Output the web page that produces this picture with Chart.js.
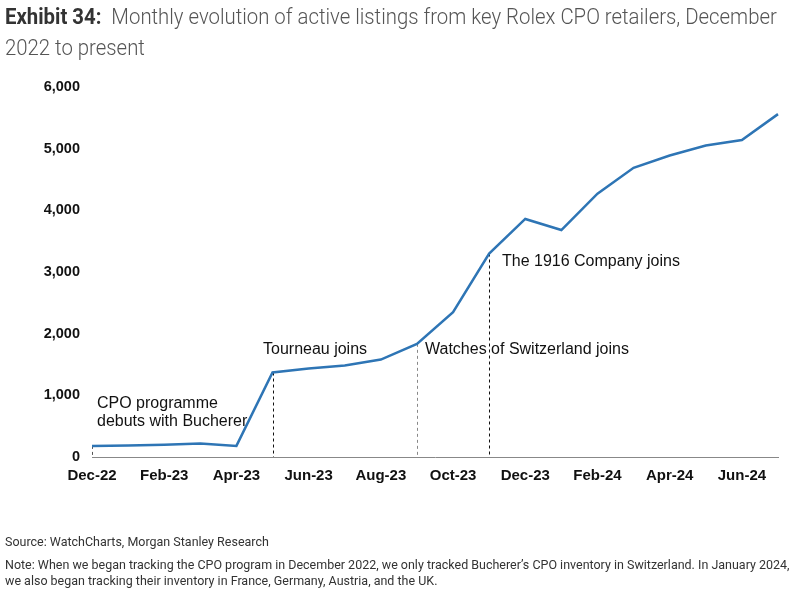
<!DOCTYPE html>
<html>
<head>
<meta charset="utf-8">
<script src="https://cdn.jsdelivr.net/npm/chart.js@4"></script>
<style>
  body { margin: 0; background: #fff; }
  #wrap { position: relative; width: 801px; height: 596px; overflow: hidden; }
  #chart { position: absolute; left: 0; top: 0; }
  .txt { position: absolute; white-space: nowrap; }
  .title { left: 5px; top: 1px; font-family: Roboto, sans-serif; font-size: 22px; line-height: 31px; color: #555; font-weight: 300; transform: scaleX(0.925); transform-origin: left top; }
  .title b { color: #333; font-weight: 700; }
  .ann { font-family: "Liberation Sans", Arial, sans-serif; font-size: 16px; line-height: 18px; color: #111; }
  .foot { left: 5px; font-family: Roboto, sans-serif; font-size: 13.5px; color: #333; transform: scaleX(0.925); transform-origin: left top; line-height: 16px; }
</style>
</head>
<body>
<div id="wrap">
  <canvas id="chart" width="801" height="596"></canvas>
  <div class="txt title"><b>Exhibit 34:</b>&nbsp; Monthly evolution of active listings from key Rolex CPO retailers, December<br>2022 to present</div>
  <div class="txt ann" style="left:97px; top:394px;">CPO programme<br>debuts with Bucherer</div>
  <div class="txt ann" style="left:263px; top:340px;">Tourneau joins</div>
  <div class="txt ann" style="left:425px; top:340px;">Watches of Switzerland joins</div>
  <div class="txt ann" style="left:502px; top:252px;">The 1916 Company joins</div>
  <div class="txt foot" style="top:533px;">Source: WatchCharts, Morgan Stanley Research</div>
  <div class="txt foot" style="top:556px;">Note: When we began tracking the CPO program in December 2022, we only tracked Bucherer’s CPO inventory in Switzerland. In January 2024,<br>we also began tracking their inventory in France, Germany, Austria, and the UK.</div>
</div>
<script>
const months = ['Dec-22', 'Jan-23', 'Feb-23', 'Mar-23', 'Apr-23', 'May-23', 'Jun-23', 'Jul-23', 'Aug-23', 'Sep-23',
  'Oct-23', 'Nov-23', 'Dec-23', 'Jan-24', 'Feb-24', 'Mar-24', 'Apr-24', 'May-24', 'Jun-24', 'Jul-24'];
const listings = [180, 185, 200, 220, 180, 1370, 1435, 1485, 1580, 1835,
  2350, 3300, 3860, 3680, 4270, 4690, 4890, 5050, 5140, 5560];
const yTicks = [0, 1000, 2000, 3000, 4000, 5000, 6000];
// months where a retailer joined (dashed drop lines)
const joinIdx = [0, 5, 9, 11];
const joinColor = ['#555', '#111', '#888', '#111'];

const dropLines = {
  id: 'dropLines',
  beforeDatasetsDraw(chart) {
    const { ctx, scales: { x, y } } = chart;
    ctx.save();
    ctx.lineWidth = 1;
    ctx.setLineDash([3, 3]);
    joinIdx.forEach((i, k) => {
      const px = Math.round(x.getPixelForValue(i)) + 0.5;
      ctx.strokeStyle = joinColor[k];
      ctx.beginPath();
      ctx.moveTo(px, y.getPixelForValue(listings[i]));
      ctx.lineTo(px, y.getPixelForValue(0));
      ctx.stroke();
    });
    ctx.restore();
  }
};

new Chart(document.getElementById('chart'), {
  type: 'line',
  data: {
    labels: months,
    datasets: [{
      data: listings,
      borderColor: '#2e75b5',
      borderWidth: 2.5,
      pointRadius: 0,
      tension: 0,
      fill: false
    }]
  },
  options: {
    responsive: false,
    animation: false,
    layout: { padding: { left: 0, right: 23, top: 87, bottom: 0 } },
    plugins: { legend: { display: false }, tooltip: { enabled: false } },
    scales: {
      x: {
        offset: false,
        grid: { display: false, drawTicks: false },
        border: { display: true, color: '#888', width: 1 },
        afterFit(scale) { scale.height = 139; },
        ticks: {
          autoSkip: false,
          maxRotation: 0,
          padding: 10,
          color: '#111',
          font: { family: 'Liberation Sans', size: 15, weight: 'bold' },
          callback: (v, i) => (i % 2 === 0 ? months[i] : '')
        }
      },
      y: {
        min: 0,
        max: 6000,
        grid: { display: false, drawTicks: false },
        border: { display: false },
        afterFit(scale) { scale.width = 92; },
        afterBuildTicks(scale) { scale.ticks = yTicks.map(v => ({ value: v })); },
        ticks: {
          padding: 12,
          color: '#111',
          font: { family: 'Liberation Sans', size: 14.5, weight: 'bold' },
          callback: v => v.toLocaleString('en-US')
        }
      }
    }
  },
  plugins: [dropLines]
});
</script>
</body>
</html>
